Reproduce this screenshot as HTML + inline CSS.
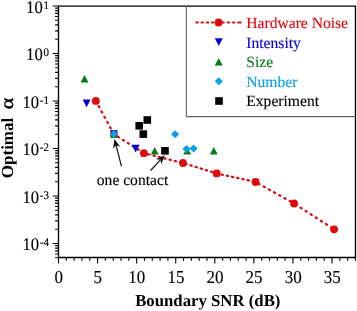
<!DOCTYPE html>
<html><head><meta charset="utf-8"><style>
html,body{margin:0;padding:0;background:#fff;}
svg{display:block;will-change:transform;}
text{text-rendering:geometricPrecision;}
.t{font-family:"Liberation Serif",serif;font-size:15.6px;}
.tk{font-family:"Liberation Serif",serif;font-size:17px;}
.bx{font-family:"Liberation Serif",serif;font-size:16.75px;font-weight:bold;}
.b{font-family:"Liberation Serif",serif;font-size:17px;font-weight:bold;}
</style></head><body>
<svg width="357" height="311" viewBox="0 0 357 311">
<rect width="357" height="311" fill="#fff"/>
<path d="M58.5,6.1H355.47V257.5H58.5Z" fill="none" stroke="#000" stroke-width="1.35"/>
<path d="M58.50,257.5v6M66.31,257.5v3.2M74.13,257.5v3.2M81.94,257.5v3.2M89.76,257.5v3.2M97.58,257.5v6M105.39,257.5v3.2M113.21,257.5v3.2M121.02,257.5v3.2M128.84,257.5v3.2M136.65,257.5v6M144.47,257.5v3.2M152.28,257.5v3.2M160.09,257.5v3.2M167.91,257.5v3.2M175.73,257.5v6M183.54,257.5v3.2M191.36,257.5v3.2M199.17,257.5v3.2M206.99,257.5v3.2M214.80,257.5v6M222.62,257.5v3.2M230.43,257.5v3.2M238.25,257.5v3.2M246.06,257.5v3.2M253.88,257.5v6M261.69,257.5v3.2M269.50,257.5v3.2M277.32,257.5v3.2M285.13,257.5v3.2M292.95,257.5v6M300.76,257.5v3.2M308.58,257.5v3.2M316.40,257.5v3.2M324.21,257.5v3.2M332.03,257.5v6M339.84,257.5v3.2M347.66,257.5v3.2M355.47,257.5v3.2M58.5,257.80h-3.4M58.5,254.04h-3.4M58.5,250.86h-3.4M58.5,248.10h-3.4M58.5,245.67h-3.4M58.5,243.50h-5.8M58.5,229.20h-3.4M58.5,220.84h-3.4M58.5,214.90h-3.4M58.5,210.30h-3.4M58.5,206.54h-3.4M58.5,203.36h-3.4M58.5,200.60h-3.4M58.5,198.17h-3.4M58.5,196.00h-5.8M58.5,181.70h-3.4M58.5,173.34h-3.4M58.5,167.40h-3.4M58.5,162.80h-3.4M58.5,159.04h-3.4M58.5,155.86h-3.4M58.5,153.10h-3.4M58.5,150.67h-3.4M58.5,148.50h-5.8M58.5,134.20h-3.4M58.5,125.84h-3.4M58.5,119.90h-3.4M58.5,115.30h-3.4M58.5,111.54h-3.4M58.5,108.36h-3.4M58.5,105.60h-3.4M58.5,103.17h-3.4M58.5,101.00h-5.8M58.5,86.70h-3.4M58.5,78.34h-3.4M58.5,72.40h-3.4M58.5,67.80h-3.4M58.5,64.04h-3.4M58.5,60.86h-3.4M58.5,58.10h-3.4M58.5,55.67h-3.4M58.5,53.50h-5.8M58.5,39.20h-3.4M58.5,30.84h-3.4M58.5,24.90h-3.4M58.5,20.30h-3.4M58.5,16.54h-3.4M58.5,13.36h-3.4M58.5,10.60h-3.4M58.5,8.17h-3.4M58.5,6.00h-5.8" stroke="#000" stroke-width="1.1" fill="none"/>
<text transform="translate(58.70,282.5) scale(1,1.07)" text-anchor="middle" class="tk" stroke="#000" stroke-width="0.12">0</text>
<text transform="translate(97.78,282.5) scale(1,1.07)" text-anchor="middle" class="tk" stroke="#000" stroke-width="0.12">5</text>
<text transform="translate(136.85,282.5) scale(1,1.07)" text-anchor="middle" class="tk" stroke="#000" stroke-width="0.12">10</text>
<text transform="translate(175.93,282.5) scale(1,1.07)" text-anchor="middle" class="tk" stroke="#000" stroke-width="0.12">15</text>
<text transform="translate(215.00,282.5) scale(1,1.07)" text-anchor="middle" class="tk" stroke="#000" stroke-width="0.12">20</text>
<text transform="translate(254.07,282.5) scale(1,1.07)" text-anchor="middle" class="tk" stroke="#000" stroke-width="0.12">25</text>
<text transform="translate(293.15,282.5) scale(1,1.07)" text-anchor="middle" class="tk" stroke="#000" stroke-width="0.12">30</text>
<text transform="translate(332.23,282.5) scale(1,1.07)" text-anchor="middle" class="tk" stroke="#000" stroke-width="0.12">35</text>
<text transform="translate(48.9,12.80) scale(0.98,1.04)" text-anchor="end" class="tk" stroke="#000" stroke-width="0.12">10<tspan font-size="11.2" dx="0.7" dy="-4.1">1</tspan></text>
<text transform="translate(48.9,60.30) scale(0.98,1.04)" text-anchor="end" class="tk" stroke="#000" stroke-width="0.12">10<tspan font-size="11.2" dx="0.7" dy="-4.1">0</tspan></text>
<text transform="translate(48.9,107.80) scale(0.98,1.04)" text-anchor="end" class="tk" stroke="#000" stroke-width="0.12">10<tspan font-size="11.2" dx="0.7" dy="-4.1">-1</tspan></text>
<text transform="translate(48.9,155.30) scale(0.98,1.04)" text-anchor="end" class="tk" stroke="#000" stroke-width="0.12">10<tspan font-size="11.2" dx="0.7" dy="-4.1">-2</tspan></text>
<text transform="translate(48.9,202.80) scale(0.98,1.04)" text-anchor="end" class="tk" stroke="#000" stroke-width="0.12">10<tspan font-size="11.2" dx="0.7" dy="-4.1">-3</tspan></text>
<text transform="translate(48.9,250.30) scale(0.98,1.04)" text-anchor="end" class="tk" stroke="#000" stroke-width="0.12">10<tspan font-size="11.2" dx="0.7" dy="-4.1">-4</tspan></text>
<text x="207.8" y="305.7" text-anchor="middle" class="bx">Boundary SNR (dB)</text>
<text transform="translate(12.8,178.2) rotate(-90)" class="b">Optimal</text>
<text transform="translate(12.5,109.3) rotate(-90) scale(1.3,1.08)" class="tk" stroke="#000" stroke-width="0.35">&#945;</text>
<path d="M95.8,100.9L113.9,134.1" fill="none" stroke="#df0a0e" stroke-width="2.3" stroke-linecap="round" stroke-dasharray="1.2 4.80" stroke-dashoffset="0.00"/>
<path d="M113.9,134.1L143.9,153.2" fill="none" stroke="#df0a0e" stroke-width="2.3" stroke-linecap="round" stroke-dasharray="1.2 4.60" stroke-dashoffset="0.90"/>
<path d="M143.9,153.2L183.0,163.0" fill="none" stroke="#df0a0e" stroke-width="2.3" stroke-linecap="round" stroke-dasharray="1.2 4.30" stroke-dashoffset="1.00"/>
<path d="M183.0,163.0L216.7,173.4" fill="none" stroke="#df0a0e" stroke-width="2.3" stroke-linecap="round" stroke-dasharray="1.2 4.20" stroke-dashoffset="3.00"/>
<path d="M216.7,173.4L255.6,182.0" fill="none" stroke="#df0a0e" stroke-width="2.3" stroke-linecap="round" stroke-dasharray="1.2 4.10" stroke-dashoffset="0.20"/>
<path d="M255.6,182.0L294.1,203.5" fill="none" stroke="#df0a0e" stroke-width="2.3" stroke-linecap="round" stroke-dasharray="1.2 4.75" stroke-dashoffset="2.65"/>
<path d="M294.1,203.5L334.1,229.3" fill="none" stroke="#df0a0e" stroke-width="2.3" stroke-linecap="round" stroke-dasharray="1.2 4.85" stroke-dashoffset="4.40"/>
<circle cx="95.8" cy="100.9" r="3.9" fill="#df0a0e"/>
<circle cx="113.9" cy="134.1" r="3.9" fill="#df0a0e"/>
<circle cx="143.9" cy="153.2" r="3.9" fill="#df0a0e"/>
<circle cx="183.0" cy="163.0" r="3.9" fill="#df0a0e"/>
<circle cx="216.7" cy="173.4" r="3.9" fill="#df0a0e"/>
<circle cx="255.6" cy="182.0" r="3.9" fill="#df0a0e"/>
<circle cx="294.1" cy="203.5" r="3.9" fill="#df0a0e"/>
<circle cx="334.1" cy="229.3" r="3.9" fill="#df0a0e"/>
<path d="M82.65,99.60H90.55L86.60,107.30Z" fill="#0500d7"/>
<path d="M109.95,130.20H117.85L113.90,137.90Z" fill="#0500d7"/>
<path d="M131.75,144.80H139.65L135.70,152.50Z" fill="#0500d7"/>
<path d="M80.55,82.60H88.45L84.50,75.10Z" fill="#057d14"/>
<path d="M109.95,138.00H117.85L113.90,130.50Z" fill="#057d14"/>
<path d="M150.75,154.50H158.65L154.70,147.00Z" fill="#057d14"/>
<path d="M183.25,154.60H191.15L187.20,147.10Z" fill="#057d14"/>
<path d="M209.85,154.60H217.75L213.80,147.10Z" fill="#057d14"/>
<path d="M109.85,134.10L113.90,130.10L117.95,134.10L113.90,138.10Z" fill="#0aa0e6"/>
<path d="M171.05,134.30L175.10,130.30L179.15,134.30L175.10,138.30Z" fill="#0aa0e6"/>
<path d="M182.45,149.00L186.50,145.00L190.55,149.00L186.50,153.00Z" fill="#0aa0e6"/>
<path d="M189.55,148.60L193.60,144.60L197.65,148.60L193.60,152.60Z" fill="#0aa0e6"/>
<rect x="143.50" y="116.20" width="7.6" height="7.6" fill="#000"/>
<rect x="135.40" y="122.00" width="7.6" height="7.6" fill="#000"/>
<rect x="139.50" y="130.30" width="7.6" height="7.6" fill="#000"/>
<rect x="161.20" y="147.00" width="7.6" height="7.6" fill="#000"/>
<path d="M121.50,166.30L115.99,145.20" stroke="#111" stroke-width="1.2"/><path d="M114.40,139.10L120.25,146.87L115.99,145.20L113.09,148.74Z" fill="#111"/>
<path d="M150.60,170.50L160.43,159.83" stroke="#111" stroke-width="1.2"/><path d="M164.70,155.20L161.32,164.33L160.43,159.83L155.88,159.31Z" fill="#111"/>
<text x="132.5" y="185.0" text-anchor="middle" class="t" stroke="#000" stroke-width="0.12">one contact</text>
<path d="M186.4,6V116.6H355.47" fill="none" stroke="#666" stroke-width="1.1"/>
<path d="M196.40,22.5H197.80M201.60,22.5H203.00M206.80,22.5H208.20M212.00,22.5H213.40M222.40,22.5H223.80M227.80,22.5H229.00M233.00,22.5H234.30M238.10,22.5H240.70" stroke="#df0a0e" stroke-width="2.1" stroke-linecap="round"/>
<circle cx="218.6" cy="22.5" r="3.9" fill="#df0a0e"/>
<path d="M214.80,38.20H222.70L218.75,45.90Z" fill="#0500d7"/>
<path d="M214.80,65.40H222.70L218.75,57.90Z" fill="#057d14"/>
<path d="M214.75,81.30L218.80,77.30L222.85,81.30L218.80,85.30Z" fill="#0aa0e6"/>
<rect x="215.20" y="97.20" width="7.6" height="7.6" fill="#000"/>
<text x="246.3" y="28.4" fill="#df0a0e" stroke="#df0a0e" stroke-width="0.12" class="t">Hardware Noise</text>
<text x="246.3" y="47.8" fill="#0500d7" stroke="#0500d7" stroke-width="0.12" class="t">Intensity</text>
<text x="246.3" y="67.3" fill="#057d14" stroke="#057d14" stroke-width="0.12" class="t">Size</text>
<text x="246.3" y="86.8" fill="#0aa0e6" stroke="#0aa0e6" stroke-width="0.12" class="t">Number</text>
<text x="246.3" y="106.2" fill="#000" stroke="#000" stroke-width="0.12" class="t">Experiment</text>
</svg>
</body></html>
